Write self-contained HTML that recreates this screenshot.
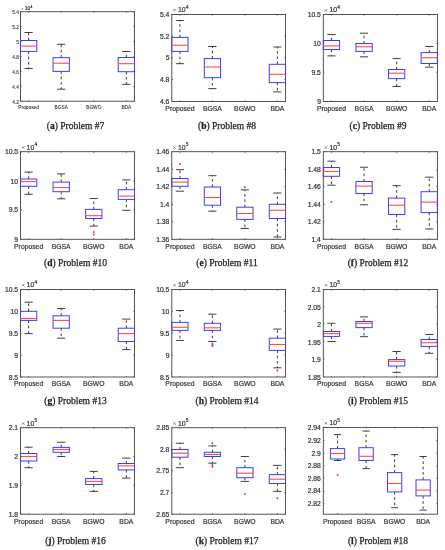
<!DOCTYPE html>
<html><head><meta charset="utf-8"><style>
html,body{margin:0;padding:0;background:#fff;}
svg{display:block;will-change:transform;}
text{font-family:"Liberation Sans",sans-serif;fill:#333;stroke:#333;stroke-width:0.2px;}
.cap{font-family:"Liberation Serif",serif;font-size:9.5px;fill:#222;stroke:#222;stroke-width:0.25px;}
.ax{fill:none;stroke:#404040;stroke-width:0.9;}
.tk{stroke:#404040;stroke-width:0.7;}
.bx{fill:none;stroke:#3c3cff;stroke-width:1.0;}
.md{stroke:#ff4848;stroke-width:1.1;}
.wh{stroke:#222;stroke-width:0.9;stroke-dasharray:2.6 2.7;}
.cp{stroke:#2a2a2a;stroke-width:0.9;}
.ou{fill:#ff3030;}
</style></head><body>
<svg width="445" height="550" viewBox="0 0 445 550">
<rect width="445" height="550" fill="#fff"/>
<g>
<rect x="20.5" y="11.7" width="114.00" height="89.50" class="ax"/>
<line x1="28.64" y1="40.50" x2="28.64" y2="32.50" class="wh"/>
<line x1="28.64" y1="51.40" x2="28.64" y2="68.50" class="wh"/>
<line x1="24.57" y1="32.50" x2="32.71" y2="32.50" class="cp"/>
<line x1="24.57" y1="68.50" x2="32.71" y2="68.50" class="cp"/>
<rect x="20.50" y="40.50" width="16.29" height="10.90" class="bx"/>
<line x1="20.50" y1="46.10" x2="36.79" y2="46.10" class="md"/>
<line x1="61.21" y1="57.70" x2="61.21" y2="44.30" class="wh"/>
<line x1="61.21" y1="71.40" x2="61.21" y2="89.20" class="wh"/>
<line x1="57.14" y1="44.30" x2="65.29" y2="44.30" class="cp"/>
<line x1="57.14" y1="89.20" x2="65.29" y2="89.20" class="cp"/>
<rect x="53.07" y="57.70" width="16.29" height="13.70" class="bx"/>
<line x1="53.07" y1="63.20" x2="69.36" y2="63.20" class="md"/>
<line x1="126.36" y1="57.50" x2="126.36" y2="51.50" class="wh"/>
<line x1="126.36" y1="71.70" x2="126.36" y2="84.30" class="wh"/>
<line x1="122.29" y1="51.50" x2="130.43" y2="51.50" class="cp"/>
<line x1="122.29" y1="84.30" x2="130.43" y2="84.30" class="cp"/>
<rect x="118.21" y="57.50" width="16.29" height="14.20" class="bx"/>
<line x1="118.21" y1="63.70" x2="134.50" y2="63.70" class="md"/>
<line x1="20.5" y1="11.7" x2="21.7" y2="11.7" class="tk"/><line x1="133.3" y1="11.7" x2="134.5" y2="11.7" class="tk"/>
<text x="18.82" y="14.33" text-anchor="end" font-size="4.8" style="stroke-width:0.10px">5.4</text>
<line x1="20.5" y1="26.5" x2="21.7" y2="26.5" class="tk"/><line x1="133.3" y1="26.5" x2="134.5" y2="26.5" class="tk"/>
<text x="18.82" y="29.13" text-anchor="end" font-size="4.8" style="stroke-width:0.10px">5.2</text>
<line x1="20.5" y1="41.4" x2="21.7" y2="41.4" class="tk"/><line x1="133.3" y1="41.4" x2="134.5" y2="41.4" class="tk"/>
<text x="18.82" y="44.03" text-anchor="end" font-size="4.8" style="stroke-width:0.10px">5</text>
<line x1="20.5" y1="56.5" x2="21.7" y2="56.5" class="tk"/><line x1="133.3" y1="56.5" x2="134.5" y2="56.5" class="tk"/>
<text x="18.82" y="59.13" text-anchor="end" font-size="4.8" style="stroke-width:0.10px">4.8</text>
<line x1="20.5" y1="71.4" x2="21.7" y2="71.4" class="tk"/><line x1="133.3" y1="71.4" x2="134.5" y2="71.4" class="tk"/>
<text x="18.82" y="74.03" text-anchor="end" font-size="4.8" style="stroke-width:0.10px">4.6</text>
<line x1="20.5" y1="86.3" x2="21.7" y2="86.3" class="tk"/><line x1="133.3" y1="86.3" x2="134.5" y2="86.3" class="tk"/>
<text x="18.82" y="88.93" text-anchor="end" font-size="4.8" style="stroke-width:0.10px">4.4</text>
<line x1="20.5" y1="101.2" x2="21.7" y2="101.2" class="tk"/><line x1="133.3" y1="101.2" x2="134.5" y2="101.2" class="tk"/>
<text x="18.82" y="103.83" text-anchor="end" font-size="4.8" style="stroke-width:0.10px">4.2</text>
<line x1="28.64" y1="101.2" x2="28.64" y2="100.0" class="tk"/><line x1="28.64" y1="11.7" x2="28.64" y2="12.899999999999999" class="tk"/>
<text x="28.64" y="109.42" text-anchor="middle" font-size="4.8" style="stroke-width:0.10px">Proposed</text>
<line x1="61.21" y1="101.2" x2="61.21" y2="100.0" class="tk"/><line x1="61.21" y1="11.7" x2="61.21" y2="12.899999999999999" class="tk"/>
<text x="61.21" y="109.42" text-anchor="middle" font-size="4.8" style="stroke-width:0.10px">BGSA</text>
<line x1="93.79" y1="101.2" x2="93.79" y2="100.0" class="tk"/><line x1="93.79" y1="11.7" x2="93.79" y2="12.899999999999999" class="tk"/>
<text x="93.79" y="109.42" text-anchor="middle" font-size="4.8" style="stroke-width:0.10px">BGWO</text>
<line x1="126.36" y1="101.2" x2="126.36" y2="100.0" class="tk"/><line x1="126.36" y1="11.7" x2="126.36" y2="12.899999999999999" class="tk"/>
<text x="126.36" y="109.42" text-anchor="middle" font-size="4.8" style="stroke-width:0.10px">BDA</text>
<path d="M21.63 7.96L23.18 9.51M21.63 9.51L23.18 7.96" stroke="#333" stroke-width="0.39"/>
<text x="24.81" y="10.22" font-size="4.87">10</text>
<text x="30.38" y="7.75" font-size="3.39">4</text>
<text x="75.5" y="128.9" text-anchor="middle" class="cap">(<tspan font-weight="bold">a</tspan>) Problem #7</text>
<rect x="171.8" y="14.5" width="113.70" height="87.00" class="ax"/>
<line x1="179.92" y1="37.40" x2="179.92" y2="20.50" class="wh"/>
<line x1="179.92" y1="51.40" x2="179.92" y2="63.70" class="wh"/>
<line x1="175.86" y1="20.50" x2="183.98" y2="20.50" class="cp"/>
<line x1="175.86" y1="63.70" x2="183.98" y2="63.70" class="cp"/>
<rect x="171.80" y="37.40" width="16.24" height="14.00" class="bx"/>
<line x1="171.80" y1="45.20" x2="188.04" y2="45.20" class="md"/>
<line x1="212.41" y1="58.60" x2="212.41" y2="46.50" class="wh"/>
<line x1="212.41" y1="77.70" x2="212.41" y2="88.60" class="wh"/>
<line x1="208.35" y1="46.50" x2="216.47" y2="46.50" class="cp"/>
<line x1="208.35" y1="88.60" x2="216.47" y2="88.60" class="cp"/>
<rect x="204.29" y="58.60" width="16.24" height="19.10" class="bx"/>
<line x1="204.29" y1="67.00" x2="220.53" y2="67.00" class="md"/>
<line x1="277.38" y1="64.30" x2="277.38" y2="47.00" class="wh"/>
<line x1="277.38" y1="82.60" x2="277.38" y2="91.90" class="wh"/>
<line x1="273.32" y1="47.00" x2="281.44" y2="47.00" class="cp"/>
<line x1="273.32" y1="91.90" x2="281.44" y2="91.90" class="cp"/>
<rect x="269.26" y="64.30" width="16.24" height="18.30" class="bx"/>
<line x1="269.26" y1="74.30" x2="285.50" y2="74.30" class="md"/>
<line x1="171.8" y1="14.5" x2="173.0" y2="14.5" class="tk"/><line x1="284.3" y1="14.5" x2="285.5" y2="14.5" class="tk"/>
<text x="169.42" y="16.95" text-anchor="end" font-size="6.8" style="stroke-width:0.20px">5.4</text>
<line x1="171.8" y1="36.3" x2="173.0" y2="36.3" class="tk"/><line x1="284.3" y1="36.3" x2="285.5" y2="36.3" class="tk"/>
<text x="169.42" y="38.75" text-anchor="end" font-size="6.8" style="stroke-width:0.20px">5.2</text>
<line x1="171.8" y1="57.7" x2="173.0" y2="57.7" class="tk"/><line x1="284.3" y1="57.7" x2="285.5" y2="57.7" class="tk"/>
<text x="169.42" y="60.15" text-anchor="end" font-size="6.8" style="stroke-width:0.20px">5</text>
<line x1="171.8" y1="79.5" x2="173.0" y2="79.5" class="tk"/><line x1="284.3" y1="79.5" x2="285.5" y2="79.5" class="tk"/>
<text x="169.42" y="81.95" text-anchor="end" font-size="6.8" style="stroke-width:0.20px">4.8</text>
<line x1="171.8" y1="101.5" x2="173.0" y2="101.5" class="tk"/><line x1="284.3" y1="101.5" x2="285.5" y2="101.5" class="tk"/>
<text x="169.42" y="103.95" text-anchor="end" font-size="6.8" style="stroke-width:0.20px">4.6</text>
<line x1="179.92" y1="101.5" x2="179.92" y2="100.3" class="tk"/><line x1="179.92" y1="14.5" x2="179.92" y2="15.7" class="tk"/>
<text x="179.92" y="110.88" text-anchor="middle" font-size="6.8" style="stroke-width:0.20px">Proposed</text>
<line x1="212.41" y1="101.5" x2="212.41" y2="100.3" class="tk"/><line x1="212.41" y1="14.5" x2="212.41" y2="15.7" class="tk"/>
<text x="212.41" y="110.88" text-anchor="middle" font-size="6.8" style="stroke-width:0.20px">BGSA</text>
<line x1="244.89" y1="101.5" x2="244.89" y2="100.3" class="tk"/><line x1="244.89" y1="14.5" x2="244.89" y2="15.7" class="tk"/>
<text x="244.89" y="110.88" text-anchor="middle" font-size="6.8" style="stroke-width:0.20px">BGWO</text>
<line x1="277.38" y1="101.5" x2="277.38" y2="100.3" class="tk"/><line x1="277.38" y1="14.5" x2="277.38" y2="15.7" class="tk"/>
<text x="277.38" y="110.88" text-anchor="middle" font-size="6.8" style="stroke-width:0.20px">BDA</text>
<path d="M173.40 9.20L175.60 11.40M173.40 11.40L175.60 9.20" stroke="#333" stroke-width="0.55"/>
<text x="177.90" y="12.40" font-size="6.90">10</text>
<text x="185.80" y="8.90" font-size="4.80">4</text>
<text x="227" y="128.9" text-anchor="middle" class="cap">(<tspan font-weight="bold">b</tspan>) Problem #8</text>
<rect x="323.3" y="14.5" width="114.10" height="87.00" class="ax"/>
<line x1="331.45" y1="40.50" x2="331.45" y2="34.50" class="wh"/>
<line x1="331.45" y1="49.50" x2="331.45" y2="55.90" class="wh"/>
<line x1="327.38" y1="34.50" x2="335.52" y2="34.50" class="cp"/>
<line x1="327.38" y1="55.90" x2="335.52" y2="55.90" class="cp"/>
<rect x="323.30" y="40.50" width="16.30" height="9.00" class="bx"/>
<line x1="323.30" y1="45.90" x2="339.60" y2="45.90" class="md"/>
<line x1="364.05" y1="43.50" x2="364.05" y2="33.20" class="wh"/>
<line x1="364.05" y1="51.40" x2="364.05" y2="56.80" class="wh"/>
<line x1="359.98" y1="33.20" x2="368.12" y2="33.20" class="cp"/>
<line x1="359.98" y1="56.80" x2="368.12" y2="56.80" class="cp"/>
<rect x="355.90" y="43.50" width="16.30" height="7.90" class="bx"/>
<line x1="355.90" y1="46.80" x2="372.20" y2="46.80" class="md"/>
<line x1="396.65" y1="69.50" x2="396.65" y2="58.60" class="wh"/>
<line x1="396.65" y1="78.60" x2="396.65" y2="86.50" class="wh"/>
<line x1="392.57" y1="58.60" x2="400.72" y2="58.60" class="cp"/>
<line x1="392.57" y1="86.50" x2="400.72" y2="86.50" class="cp"/>
<rect x="388.50" y="69.50" width="16.30" height="9.10" class="bx"/>
<line x1="388.50" y1="73.20" x2="404.80" y2="73.20" class="md"/>
<line x1="429.25" y1="52.60" x2="429.25" y2="46.50" class="wh"/>
<line x1="429.25" y1="63.50" x2="429.25" y2="67.20" class="wh"/>
<line x1="425.18" y1="46.50" x2="433.32" y2="46.50" class="cp"/>
<line x1="425.18" y1="67.20" x2="433.32" y2="67.20" class="cp"/>
<rect x="421.10" y="52.60" width="16.30" height="10.90" class="bx"/>
<line x1="421.10" y1="57.70" x2="437.40" y2="57.70" class="md"/>
<line x1="323.3" y1="14.5" x2="324.5" y2="14.5" class="tk"/><line x1="436.2" y1="14.5" x2="437.4" y2="14.5" class="tk"/>
<text x="320.92" y="16.95" text-anchor="end" font-size="6.8" style="stroke-width:0.20px">10.5</text>
<line x1="323.3" y1="43.5" x2="324.5" y2="43.5" class="tk"/><line x1="436.2" y1="43.5" x2="437.4" y2="43.5" class="tk"/>
<text x="320.92" y="45.95" text-anchor="end" font-size="6.8" style="stroke-width:0.20px">10</text>
<line x1="323.3" y1="72.3" x2="324.5" y2="72.3" class="tk"/><line x1="436.2" y1="72.3" x2="437.4" y2="72.3" class="tk"/>
<text x="320.92" y="74.75" text-anchor="end" font-size="6.8" style="stroke-width:0.20px">9.5</text>
<line x1="323.3" y1="101.5" x2="324.5" y2="101.5" class="tk"/><line x1="436.2" y1="101.5" x2="437.4" y2="101.5" class="tk"/>
<text x="320.92" y="103.95" text-anchor="end" font-size="6.8" style="stroke-width:0.20px">9</text>
<line x1="331.45" y1="101.5" x2="331.45" y2="100.3" class="tk"/><line x1="331.45" y1="14.5" x2="331.45" y2="15.7" class="tk"/>
<text x="331.45" y="110.88" text-anchor="middle" font-size="6.8" style="stroke-width:0.20px">Proposed</text>
<line x1="364.05" y1="101.5" x2="364.05" y2="100.3" class="tk"/><line x1="364.05" y1="14.5" x2="364.05" y2="15.7" class="tk"/>
<text x="364.05" y="110.88" text-anchor="middle" font-size="6.8" style="stroke-width:0.20px">BGSA</text>
<line x1="396.65" y1="101.5" x2="396.65" y2="100.3" class="tk"/><line x1="396.65" y1="14.5" x2="396.65" y2="15.7" class="tk"/>
<text x="396.65" y="110.88" text-anchor="middle" font-size="6.8" style="stroke-width:0.20px">BGWO</text>
<line x1="429.25" y1="101.5" x2="429.25" y2="100.3" class="tk"/><line x1="429.25" y1="14.5" x2="429.25" y2="15.7" class="tk"/>
<text x="429.25" y="110.88" text-anchor="middle" font-size="6.8" style="stroke-width:0.20px">BDA</text>
<path d="M324.90 9.20L327.10 11.40M324.90 11.40L327.10 9.20" stroke="#333" stroke-width="0.55"/>
<text x="329.40" y="12.40" font-size="6.90">10</text>
<text x="337.30" y="8.90" font-size="4.80">4</text>
<text x="378" y="128.9" text-anchor="middle" class="cap">(<tspan font-weight="bold">c</tspan>) Problem #9</text>
<rect x="20.5" y="151.7" width="114.00" height="87.60" class="ax"/>
<line x1="28.64" y1="179.00" x2="28.64" y2="172.10" class="wh"/>
<line x1="28.64" y1="186.30" x2="28.64" y2="194.30" class="wh"/>
<line x1="24.57" y1="172.10" x2="32.71" y2="172.10" class="cp"/>
<line x1="24.57" y1="194.30" x2="32.71" y2="194.30" class="cp"/>
<rect x="20.50" y="179.00" width="16.29" height="7.30" class="bx"/>
<line x1="20.50" y1="181.50" x2="36.79" y2="181.50" class="md"/>
<line x1="61.21" y1="182.10" x2="61.21" y2="173.90" class="wh"/>
<line x1="61.21" y1="191.70" x2="61.21" y2="198.80" class="wh"/>
<line x1="57.14" y1="173.90" x2="65.29" y2="173.90" class="cp"/>
<line x1="57.14" y1="198.80" x2="65.29" y2="198.80" class="cp"/>
<rect x="53.07" y="182.10" width="16.29" height="9.60" class="bx"/>
<line x1="53.07" y1="187.50" x2="69.36" y2="187.50" class="md"/>
<line x1="93.79" y1="209.40" x2="93.79" y2="198.50" class="wh"/>
<line x1="93.79" y1="218.50" x2="93.79" y2="226.10" class="wh"/>
<line x1="89.71" y1="198.50" x2="97.86" y2="198.50" class="cp"/>
<line x1="89.71" y1="226.10" x2="97.86" y2="226.10" class="cp"/>
<rect x="85.64" y="209.40" width="16.29" height="9.10" class="bx"/>
<line x1="85.64" y1="215.70" x2="101.93" y2="215.70" class="md"/>
<circle cx="93.79" cy="232.10" r="1.0" class="ou"/>
<circle cx="93.79" cy="234.50" r="1.0" class="ou"/>
<line x1="126.36" y1="189.70" x2="126.36" y2="179.90" class="wh"/>
<line x1="126.36" y1="199.40" x2="126.36" y2="210.30" class="wh"/>
<line x1="122.29" y1="179.90" x2="130.43" y2="179.90" class="cp"/>
<line x1="122.29" y1="210.30" x2="130.43" y2="210.30" class="cp"/>
<rect x="118.21" y="189.70" width="16.29" height="9.70" class="bx"/>
<line x1="118.21" y1="196.10" x2="134.50" y2="196.10" class="md"/>
<line x1="20.5" y1="151.7" x2="21.7" y2="151.7" class="tk"/><line x1="133.3" y1="151.7" x2="134.5" y2="151.7" class="tk"/>
<text x="18.12" y="154.15" text-anchor="end" font-size="6.8" style="stroke-width:0.20px">10.5</text>
<line x1="20.5" y1="181.2" x2="21.7" y2="181.2" class="tk"/><line x1="133.3" y1="181.2" x2="134.5" y2="181.2" class="tk"/>
<text x="18.12" y="183.65" text-anchor="end" font-size="6.8" style="stroke-width:0.20px">10</text>
<line x1="20.5" y1="209.9" x2="21.7" y2="209.9" class="tk"/><line x1="133.3" y1="209.9" x2="134.5" y2="209.9" class="tk"/>
<text x="18.12" y="212.35" text-anchor="end" font-size="6.8" style="stroke-width:0.20px">9.5</text>
<line x1="20.5" y1="239.3" x2="21.7" y2="239.3" class="tk"/><line x1="133.3" y1="239.3" x2="134.5" y2="239.3" class="tk"/>
<text x="18.12" y="241.75" text-anchor="end" font-size="6.8" style="stroke-width:0.20px">9</text>
<line x1="28.64" y1="239.3" x2="28.64" y2="238.10000000000002" class="tk"/><line x1="28.64" y1="151.7" x2="28.64" y2="152.89999999999998" class="tk"/>
<text x="28.64" y="248.68" text-anchor="middle" font-size="6.8" style="stroke-width:0.20px">Proposed</text>
<line x1="61.21" y1="239.3" x2="61.21" y2="238.10000000000002" class="tk"/><line x1="61.21" y1="151.7" x2="61.21" y2="152.89999999999998" class="tk"/>
<text x="61.21" y="248.68" text-anchor="middle" font-size="6.8" style="stroke-width:0.20px">BGSA</text>
<line x1="93.79" y1="239.3" x2="93.79" y2="238.10000000000002" class="tk"/><line x1="93.79" y1="151.7" x2="93.79" y2="152.89999999999998" class="tk"/>
<text x="93.79" y="248.68" text-anchor="middle" font-size="6.8" style="stroke-width:0.20px">BGWO</text>
<line x1="126.36" y1="239.3" x2="126.36" y2="238.10000000000002" class="tk"/><line x1="126.36" y1="151.7" x2="126.36" y2="152.89999999999998" class="tk"/>
<text x="126.36" y="248.68" text-anchor="middle" font-size="6.8" style="stroke-width:0.20px">BDA</text>
<path d="M22.10 146.40L24.30 148.60M22.10 148.60L24.30 146.40" stroke="#333" stroke-width="0.55"/>
<text x="26.60" y="149.60" font-size="6.90">10</text>
<text x="34.50" y="146.10" font-size="4.80">4</text>
<text x="75.5" y="266.4" text-anchor="middle" class="cap">(<tspan font-weight="bold">d</tspan>) Problem #10</text>
<rect x="171.8" y="151.7" width="113.70" height="87.60" class="ax"/>
<line x1="179.92" y1="178.50" x2="179.92" y2="169.70" class="wh"/>
<line x1="179.92" y1="186.30" x2="179.92" y2="191.20" class="wh"/>
<line x1="175.86" y1="169.70" x2="183.98" y2="169.70" class="cp"/>
<line x1="175.86" y1="191.20" x2="183.98" y2="191.20" class="cp"/>
<rect x="171.80" y="178.50" width="16.24" height="7.80" class="bx"/>
<line x1="171.80" y1="182.10" x2="188.04" y2="182.10" class="md"/>
<circle cx="179.92" cy="163.90" r="1.0" class="ou"/>
<line x1="212.41" y1="187.00" x2="212.41" y2="175.70" class="wh"/>
<line x1="212.41" y1="205.20" x2="212.41" y2="211.20" class="wh"/>
<line x1="208.35" y1="175.70" x2="216.47" y2="175.70" class="cp"/>
<line x1="208.35" y1="211.20" x2="216.47" y2="211.20" class="cp"/>
<rect x="204.29" y="187.00" width="16.24" height="18.20" class="bx"/>
<line x1="204.29" y1="197.50" x2="220.53" y2="197.50" class="md"/>
<line x1="244.89" y1="207.20" x2="244.89" y2="189.90" class="wh"/>
<line x1="244.89" y1="219.40" x2="244.89" y2="228.50" class="wh"/>
<line x1="240.83" y1="189.90" x2="248.95" y2="189.90" class="cp"/>
<line x1="240.83" y1="228.50" x2="248.95" y2="228.50" class="cp"/>
<rect x="236.77" y="207.20" width="16.24" height="12.20" class="bx"/>
<line x1="236.77" y1="213.50" x2="253.01" y2="213.50" class="md"/>
<circle cx="244.89" cy="187.20" r="1.0" class="ou"/>
<line x1="277.38" y1="204.30" x2="277.38" y2="193.00" class="wh"/>
<line x1="277.38" y1="218.50" x2="277.38" y2="237.00" class="wh"/>
<line x1="273.32" y1="193.00" x2="281.44" y2="193.00" class="cp"/>
<line x1="273.32" y1="237.00" x2="281.44" y2="237.00" class="cp"/>
<rect x="269.26" y="204.30" width="16.24" height="14.20" class="bx"/>
<line x1="269.26" y1="210.30" x2="285.50" y2="210.30" class="md"/>
<line x1="171.8" y1="151.7" x2="173.0" y2="151.7" class="tk"/><line x1="284.3" y1="151.7" x2="285.5" y2="151.7" class="tk"/>
<text x="169.42" y="154.15" text-anchor="end" font-size="6.8" style="stroke-width:0.20px">1.46</text>
<line x1="171.8" y1="169.4" x2="173.0" y2="169.4" class="tk"/><line x1="284.3" y1="169.4" x2="285.5" y2="169.4" class="tk"/>
<text x="169.42" y="171.85" text-anchor="end" font-size="6.8" style="stroke-width:0.20px">1.44</text>
<line x1="171.8" y1="186.6" x2="173.0" y2="186.6" class="tk"/><line x1="284.3" y1="186.6" x2="285.5" y2="186.6" class="tk"/>
<text x="169.42" y="189.05" text-anchor="end" font-size="6.8" style="stroke-width:0.20px">1.42</text>
<line x1="171.8" y1="204.5" x2="173.0" y2="204.5" class="tk"/><line x1="284.3" y1="204.5" x2="285.5" y2="204.5" class="tk"/>
<text x="169.42" y="206.95" text-anchor="end" font-size="6.8" style="stroke-width:0.20px">1.4</text>
<line x1="171.8" y1="221.7" x2="173.0" y2="221.7" class="tk"/><line x1="284.3" y1="221.7" x2="285.5" y2="221.7" class="tk"/>
<text x="169.42" y="224.15" text-anchor="end" font-size="6.8" style="stroke-width:0.20px">1.38</text>
<line x1="171.8" y1="239.3" x2="173.0" y2="239.3" class="tk"/><line x1="284.3" y1="239.3" x2="285.5" y2="239.3" class="tk"/>
<text x="169.42" y="241.75" text-anchor="end" font-size="6.8" style="stroke-width:0.20px">1.36</text>
<line x1="179.92" y1="239.3" x2="179.92" y2="238.10000000000002" class="tk"/><line x1="179.92" y1="151.7" x2="179.92" y2="152.89999999999998" class="tk"/>
<text x="179.92" y="248.68" text-anchor="middle" font-size="6.8" style="stroke-width:0.20px">Proposed</text>
<line x1="212.41" y1="239.3" x2="212.41" y2="238.10000000000002" class="tk"/><line x1="212.41" y1="151.7" x2="212.41" y2="152.89999999999998" class="tk"/>
<text x="212.41" y="248.68" text-anchor="middle" font-size="6.8" style="stroke-width:0.20px">BGSA</text>
<line x1="244.89" y1="239.3" x2="244.89" y2="238.10000000000002" class="tk"/><line x1="244.89" y1="151.7" x2="244.89" y2="152.89999999999998" class="tk"/>
<text x="244.89" y="248.68" text-anchor="middle" font-size="6.8" style="stroke-width:0.20px">BGWO</text>
<line x1="277.38" y1="239.3" x2="277.38" y2="238.10000000000002" class="tk"/><line x1="277.38" y1="151.7" x2="277.38" y2="152.89999999999998" class="tk"/>
<text x="277.38" y="248.68" text-anchor="middle" font-size="6.8" style="stroke-width:0.20px">BDA</text>
<path d="M173.40 146.40L175.60 148.60M173.40 148.60L175.60 146.40" stroke="#333" stroke-width="0.55"/>
<text x="177.90" y="149.60" font-size="6.90">10</text>
<text x="185.80" y="146.10" font-size="4.80">5</text>
<text x="227" y="266.4" text-anchor="middle" class="cap">(<tspan font-weight="bold">e</tspan>) Problem #11</text>
<rect x="323.3" y="151.7" width="114.10" height="87.60" class="ax"/>
<line x1="331.45" y1="167.50" x2="331.45" y2="161.20" class="wh"/>
<line x1="331.45" y1="176.30" x2="331.45" y2="185.20" class="wh"/>
<line x1="327.38" y1="161.20" x2="335.52" y2="161.20" class="cp"/>
<line x1="327.38" y1="185.20" x2="335.52" y2="185.20" class="cp"/>
<rect x="323.30" y="167.50" width="16.30" height="8.80" class="bx"/>
<line x1="323.30" y1="171.50" x2="339.60" y2="171.50" class="md"/>
<circle cx="331.45" cy="202.10" r="1.0" class="ou"/>
<line x1="364.05" y1="181.50" x2="364.05" y2="167.20" class="wh"/>
<line x1="364.05" y1="193.50" x2="364.05" y2="204.80" class="wh"/>
<line x1="359.98" y1="167.20" x2="368.12" y2="167.20" class="cp"/>
<line x1="359.98" y1="204.80" x2="368.12" y2="204.80" class="cp"/>
<rect x="355.90" y="181.50" width="16.30" height="12.00" class="bx"/>
<line x1="355.90" y1="186.10" x2="372.20" y2="186.10" class="md"/>
<line x1="396.65" y1="198.10" x2="396.65" y2="185.70" class="wh"/>
<line x1="396.65" y1="214.50" x2="396.65" y2="229.40" class="wh"/>
<line x1="392.57" y1="185.70" x2="400.72" y2="185.70" class="cp"/>
<line x1="392.57" y1="229.40" x2="400.72" y2="229.40" class="cp"/>
<rect x="388.50" y="198.10" width="16.30" height="16.40" class="bx"/>
<line x1="388.50" y1="205.20" x2="404.80" y2="205.20" class="md"/>
<line x1="429.25" y1="191.70" x2="429.25" y2="177.20" class="wh"/>
<line x1="429.25" y1="212.60" x2="429.25" y2="229.00" class="wh"/>
<line x1="425.18" y1="177.20" x2="433.32" y2="177.20" class="cp"/>
<line x1="425.18" y1="229.00" x2="433.32" y2="229.00" class="cp"/>
<rect x="421.10" y="191.70" width="16.30" height="20.90" class="bx"/>
<line x1="421.10" y1="202.10" x2="437.40" y2="202.10" class="md"/>
<line x1="323.3" y1="151.7" x2="324.5" y2="151.7" class="tk"/><line x1="436.2" y1="151.7" x2="437.4" y2="151.7" class="tk"/>
<text x="320.92" y="154.15" text-anchor="end" font-size="6.8" style="stroke-width:0.20px">1.5</text>
<line x1="323.3" y1="169.9" x2="324.5" y2="169.9" class="tk"/><line x1="436.2" y1="169.9" x2="437.4" y2="169.9" class="tk"/>
<text x="320.92" y="172.35" text-anchor="end" font-size="6.8" style="stroke-width:0.20px">1.48</text>
<line x1="323.3" y1="186.6" x2="324.5" y2="186.6" class="tk"/><line x1="436.2" y1="186.6" x2="437.4" y2="186.6" class="tk"/>
<text x="320.92" y="189.05" text-anchor="end" font-size="6.8" style="stroke-width:0.20px">1.46</text>
<line x1="323.3" y1="204.5" x2="324.5" y2="204.5" class="tk"/><line x1="436.2" y1="204.5" x2="437.4" y2="204.5" class="tk"/>
<text x="320.92" y="206.95" text-anchor="end" font-size="6.8" style="stroke-width:0.20px">1.44</text>
<line x1="323.3" y1="221.7" x2="324.5" y2="221.7" class="tk"/><line x1="436.2" y1="221.7" x2="437.4" y2="221.7" class="tk"/>
<text x="320.92" y="224.15" text-anchor="end" font-size="6.8" style="stroke-width:0.20px">1.42</text>
<line x1="323.3" y1="239.3" x2="324.5" y2="239.3" class="tk"/><line x1="436.2" y1="239.3" x2="437.4" y2="239.3" class="tk"/>
<text x="320.92" y="241.75" text-anchor="end" font-size="6.8" style="stroke-width:0.20px">1.4</text>
<line x1="331.45" y1="239.3" x2="331.45" y2="238.10000000000002" class="tk"/><line x1="331.45" y1="151.7" x2="331.45" y2="152.89999999999998" class="tk"/>
<text x="331.45" y="248.68" text-anchor="middle" font-size="6.8" style="stroke-width:0.20px">Proposed</text>
<line x1="364.05" y1="239.3" x2="364.05" y2="238.10000000000002" class="tk"/><line x1="364.05" y1="151.7" x2="364.05" y2="152.89999999999998" class="tk"/>
<text x="364.05" y="248.68" text-anchor="middle" font-size="6.8" style="stroke-width:0.20px">BGSA</text>
<line x1="396.65" y1="239.3" x2="396.65" y2="238.10000000000002" class="tk"/><line x1="396.65" y1="151.7" x2="396.65" y2="152.89999999999998" class="tk"/>
<text x="396.65" y="248.68" text-anchor="middle" font-size="6.8" style="stroke-width:0.20px">BGWO</text>
<line x1="429.25" y1="239.3" x2="429.25" y2="238.10000000000002" class="tk"/><line x1="429.25" y1="151.7" x2="429.25" y2="152.89999999999998" class="tk"/>
<text x="429.25" y="248.68" text-anchor="middle" font-size="6.8" style="stroke-width:0.20px">BDA</text>
<path d="M324.90 146.40L327.10 148.60M324.90 148.60L327.10 146.40" stroke="#333" stroke-width="0.55"/>
<text x="329.40" y="149.60" font-size="6.90">10</text>
<text x="337.30" y="146.10" font-size="4.80">5</text>
<text x="378" y="266.4" text-anchor="middle" class="cap">(<tspan font-weight="bold">f</tspan>) Problem #12</text>
<rect x="20.5" y="289.5" width="114.00" height="87.50" class="ax"/>
<line x1="28.64" y1="311.30" x2="28.64" y2="302.20" class="wh"/>
<line x1="28.64" y1="320.40" x2="28.64" y2="333.60" class="wh"/>
<line x1="24.57" y1="302.20" x2="32.71" y2="302.20" class="cp"/>
<line x1="24.57" y1="333.60" x2="32.71" y2="333.60" class="cp"/>
<rect x="20.50" y="311.30" width="16.29" height="9.10" class="bx"/>
<line x1="20.50" y1="318.50" x2="36.79" y2="318.50" class="md"/>
<line x1="61.21" y1="315.80" x2="61.21" y2="308.50" class="wh"/>
<line x1="61.21" y1="328.20" x2="61.21" y2="338.20" class="wh"/>
<line x1="57.14" y1="308.50" x2="65.29" y2="308.50" class="cp"/>
<line x1="57.14" y1="338.20" x2="65.29" y2="338.20" class="cp"/>
<rect x="53.07" y="315.80" width="16.29" height="12.40" class="bx"/>
<line x1="53.07" y1="320.40" x2="69.36" y2="320.40" class="md"/>
<line x1="126.36" y1="328.20" x2="126.36" y2="319.10" class="wh"/>
<line x1="126.36" y1="341.50" x2="126.36" y2="349.60" class="wh"/>
<line x1="122.29" y1="319.10" x2="130.43" y2="319.10" class="cp"/>
<line x1="122.29" y1="349.60" x2="130.43" y2="349.60" class="cp"/>
<rect x="118.21" y="328.20" width="16.29" height="13.30" class="bx"/>
<line x1="118.21" y1="333.60" x2="134.50" y2="333.60" class="md"/>
<line x1="20.5" y1="289.5" x2="21.7" y2="289.5" class="tk"/><line x1="133.3" y1="289.5" x2="134.5" y2="289.5" class="tk"/>
<text x="18.12" y="292.45" text-anchor="end" font-size="6.8" style="stroke-width:0.20px">10.5</text>
<line x1="20.5" y1="311.3" x2="21.7" y2="311.3" class="tk"/><line x1="133.3" y1="311.3" x2="134.5" y2="311.3" class="tk"/>
<text x="18.12" y="314.25" text-anchor="end" font-size="6.8" style="stroke-width:0.20px">10</text>
<line x1="20.5" y1="333.3" x2="21.7" y2="333.3" class="tk"/><line x1="133.3" y1="333.3" x2="134.5" y2="333.3" class="tk"/>
<text x="18.12" y="336.25" text-anchor="end" font-size="6.8" style="stroke-width:0.20px">9.5</text>
<line x1="20.5" y1="355.1" x2="21.7" y2="355.1" class="tk"/><line x1="133.3" y1="355.1" x2="134.5" y2="355.1" class="tk"/>
<text x="18.12" y="358.05" text-anchor="end" font-size="6.8" style="stroke-width:0.20px">9</text>
<line x1="20.5" y1="377" x2="21.7" y2="377" class="tk"/><line x1="133.3" y1="377" x2="134.5" y2="377" class="tk"/>
<text x="18.12" y="379.95" text-anchor="end" font-size="6.8" style="stroke-width:0.20px">8.5</text>
<line x1="28.64" y1="377" x2="28.64" y2="375.8" class="tk"/><line x1="28.64" y1="289.5" x2="28.64" y2="290.7" class="tk"/>
<text x="28.64" y="386.38" text-anchor="middle" font-size="6.8" style="stroke-width:0.20px">Proposed</text>
<line x1="61.21" y1="377" x2="61.21" y2="375.8" class="tk"/><line x1="61.21" y1="289.5" x2="61.21" y2="290.7" class="tk"/>
<text x="61.21" y="386.38" text-anchor="middle" font-size="6.8" style="stroke-width:0.20px">BGSA</text>
<line x1="93.79" y1="377" x2="93.79" y2="375.8" class="tk"/><line x1="93.79" y1="289.5" x2="93.79" y2="290.7" class="tk"/>
<text x="93.79" y="386.38" text-anchor="middle" font-size="6.8" style="stroke-width:0.20px">BGWO</text>
<line x1="126.36" y1="377" x2="126.36" y2="375.8" class="tk"/><line x1="126.36" y1="289.5" x2="126.36" y2="290.7" class="tk"/>
<text x="126.36" y="386.38" text-anchor="middle" font-size="6.8" style="stroke-width:0.20px">BDA</text>
<path d="M22.10 284.20L24.30 286.40M22.10 286.40L24.30 284.20" stroke="#333" stroke-width="0.55"/>
<text x="26.60" y="287.40" font-size="6.90">10</text>
<text x="34.50" y="283.90" font-size="4.80">4</text>
<text x="75.5" y="404.2" text-anchor="middle" class="cap">(<tspan font-weight="bold">g</tspan>) Problem #13</text>
<rect x="171.8" y="289.5" width="113.70" height="87.50" class="ax"/>
<line x1="179.92" y1="322.40" x2="179.92" y2="310.50" class="wh"/>
<line x1="179.92" y1="330.40" x2="179.92" y2="340.40" class="wh"/>
<line x1="175.86" y1="310.50" x2="183.98" y2="310.50" class="cp"/>
<line x1="175.86" y1="340.40" x2="183.98" y2="340.40" class="cp"/>
<rect x="171.80" y="322.40" width="16.24" height="8.00" class="bx"/>
<line x1="171.80" y1="327.30" x2="188.04" y2="327.30" class="md"/>
<line x1="212.41" y1="323.30" x2="212.41" y2="314.20" class="wh"/>
<line x1="212.41" y1="330.40" x2="212.41" y2="341.50" class="wh"/>
<line x1="208.35" y1="314.20" x2="216.47" y2="314.20" class="cp"/>
<line x1="208.35" y1="341.50" x2="216.47" y2="341.50" class="cp"/>
<rect x="204.29" y="323.30" width="16.24" height="7.10" class="bx"/>
<line x1="204.29" y1="327.80" x2="220.53" y2="327.80" class="md"/>
<circle cx="212.41" cy="343.60" r="1.0" class="ou"/>
<circle cx="212.41" cy="344.90" r="1.0" class="ou"/>
<circle cx="212.41" cy="346.00" r="1.0" class="ou"/>
<line x1="277.38" y1="338.20" x2="277.38" y2="329.10" class="wh"/>
<line x1="277.38" y1="350.40" x2="277.38" y2="367.80" class="wh"/>
<line x1="273.32" y1="329.10" x2="281.44" y2="329.10" class="cp"/>
<line x1="273.32" y1="367.80" x2="281.44" y2="367.80" class="cp"/>
<rect x="269.26" y="338.20" width="16.24" height="12.20" class="bx"/>
<line x1="269.26" y1="344.50" x2="285.50" y2="344.50" class="md"/>
<circle cx="277.38" cy="370.40" r="1.0" class="ou"/>
<line x1="171.8" y1="289.5" x2="173.0" y2="289.5" class="tk"/><line x1="284.3" y1="289.5" x2="285.5" y2="289.5" class="tk"/>
<text x="169.42" y="292.45" text-anchor="end" font-size="6.8" style="stroke-width:0.20px">10.5</text>
<line x1="171.8" y1="311.3" x2="173.0" y2="311.3" class="tk"/><line x1="284.3" y1="311.3" x2="285.5" y2="311.3" class="tk"/>
<text x="169.42" y="314.25" text-anchor="end" font-size="6.8" style="stroke-width:0.20px">10</text>
<line x1="171.8" y1="333.1" x2="173.0" y2="333.1" class="tk"/><line x1="284.3" y1="333.1" x2="285.5" y2="333.1" class="tk"/>
<text x="169.42" y="336.05" text-anchor="end" font-size="6.8" style="stroke-width:0.20px">9.5</text>
<line x1="171.8" y1="355.1" x2="173.0" y2="355.1" class="tk"/><line x1="284.3" y1="355.1" x2="285.5" y2="355.1" class="tk"/>
<text x="169.42" y="358.05" text-anchor="end" font-size="6.8" style="stroke-width:0.20px">9</text>
<line x1="171.8" y1="377" x2="173.0" y2="377" class="tk"/><line x1="284.3" y1="377" x2="285.5" y2="377" class="tk"/>
<text x="169.42" y="379.95" text-anchor="end" font-size="6.8" style="stroke-width:0.20px">8.5</text>
<line x1="179.92" y1="377" x2="179.92" y2="375.8" class="tk"/><line x1="179.92" y1="289.5" x2="179.92" y2="290.7" class="tk"/>
<text x="179.92" y="386.38" text-anchor="middle" font-size="6.8" style="stroke-width:0.20px">Proposed</text>
<line x1="212.41" y1="377" x2="212.41" y2="375.8" class="tk"/><line x1="212.41" y1="289.5" x2="212.41" y2="290.7" class="tk"/>
<text x="212.41" y="386.38" text-anchor="middle" font-size="6.8" style="stroke-width:0.20px">BGSA</text>
<line x1="244.89" y1="377" x2="244.89" y2="375.8" class="tk"/><line x1="244.89" y1="289.5" x2="244.89" y2="290.7" class="tk"/>
<text x="244.89" y="386.38" text-anchor="middle" font-size="6.8" style="stroke-width:0.20px">BGWO</text>
<line x1="277.38" y1="377" x2="277.38" y2="375.8" class="tk"/><line x1="277.38" y1="289.5" x2="277.38" y2="290.7" class="tk"/>
<text x="277.38" y="386.38" text-anchor="middle" font-size="6.8" style="stroke-width:0.20px">BDA</text>
<path d="M173.40 284.20L175.60 286.40M173.40 286.40L175.60 284.20" stroke="#333" stroke-width="0.55"/>
<text x="177.90" y="287.40" font-size="6.90">10</text>
<text x="185.80" y="283.90" font-size="4.80">4</text>
<text x="227" y="404.2" text-anchor="middle" class="cap">(<tspan font-weight="bold">h</tspan>) Problem #14</text>
<rect x="323.3" y="289.5" width="114.10" height="87.50" class="ax"/>
<line x1="331.45" y1="331.50" x2="331.45" y2="323.30" class="wh"/>
<line x1="331.45" y1="336.40" x2="331.45" y2="341.50" class="wh"/>
<line x1="327.38" y1="323.30" x2="335.52" y2="323.30" class="cp"/>
<line x1="327.38" y1="341.50" x2="335.52" y2="341.50" class="cp"/>
<rect x="323.30" y="331.50" width="16.30" height="4.90" class="bx"/>
<line x1="323.30" y1="333.60" x2="339.60" y2="333.60" class="md"/>
<line x1="364.05" y1="321.50" x2="364.05" y2="316.90" class="wh"/>
<line x1="364.05" y1="327.60" x2="364.05" y2="336.70" class="wh"/>
<line x1="359.98" y1="316.90" x2="368.12" y2="316.90" class="cp"/>
<line x1="359.98" y1="336.70" x2="368.12" y2="336.70" class="cp"/>
<rect x="355.90" y="321.50" width="16.30" height="6.10" class="bx"/>
<line x1="355.90" y1="323.30" x2="372.20" y2="323.30" class="md"/>
<line x1="396.65" y1="359.60" x2="396.65" y2="351.50" class="wh"/>
<line x1="396.65" y1="366.00" x2="396.65" y2="372.40" class="wh"/>
<line x1="392.57" y1="351.50" x2="400.72" y2="351.50" class="cp"/>
<line x1="392.57" y1="372.40" x2="400.72" y2="372.40" class="cp"/>
<rect x="388.50" y="359.60" width="16.30" height="6.40" class="bx"/>
<line x1="388.50" y1="361.30" x2="404.80" y2="361.30" class="md"/>
<line x1="429.25" y1="339.50" x2="429.25" y2="334.50" class="wh"/>
<line x1="429.25" y1="346.40" x2="429.25" y2="353.30" class="wh"/>
<line x1="425.18" y1="334.50" x2="433.32" y2="334.50" class="cp"/>
<line x1="425.18" y1="353.30" x2="433.32" y2="353.30" class="cp"/>
<rect x="421.10" y="339.50" width="16.30" height="6.90" class="bx"/>
<line x1="421.10" y1="342.70" x2="437.40" y2="342.70" class="md"/>
<line x1="323.3" y1="289.5" x2="324.5" y2="289.5" class="tk"/><line x1="436.2" y1="289.5" x2="437.4" y2="289.5" class="tk"/>
<text x="320.92" y="292.45" text-anchor="end" font-size="6.8" style="stroke-width:0.20px">2.1</text>
<line x1="323.3" y1="306.9" x2="324.5" y2="306.9" class="tk"/><line x1="436.2" y1="306.9" x2="437.4" y2="306.9" class="tk"/>
<text x="320.92" y="309.85" text-anchor="end" font-size="6.8" style="stroke-width:0.20px">2.05</text>
<line x1="323.3" y1="324.2" x2="324.5" y2="324.2" class="tk"/><line x1="436.2" y1="324.2" x2="437.4" y2="324.2" class="tk"/>
<text x="320.92" y="327.15" text-anchor="end" font-size="6.8" style="stroke-width:0.20px">2</text>
<line x1="323.3" y1="341.8" x2="324.5" y2="341.8" class="tk"/><line x1="436.2" y1="341.8" x2="437.4" y2="341.8" class="tk"/>
<text x="320.92" y="344.75" text-anchor="end" font-size="6.8" style="stroke-width:0.20px">1.95</text>
<line x1="323.3" y1="359.1" x2="324.5" y2="359.1" class="tk"/><line x1="436.2" y1="359.1" x2="437.4" y2="359.1" class="tk"/>
<text x="320.92" y="362.05" text-anchor="end" font-size="6.8" style="stroke-width:0.20px">1.9</text>
<line x1="323.3" y1="377" x2="324.5" y2="377" class="tk"/><line x1="436.2" y1="377" x2="437.4" y2="377" class="tk"/>
<text x="320.92" y="379.95" text-anchor="end" font-size="6.8" style="stroke-width:0.20px">1.85</text>
<line x1="331.45" y1="377" x2="331.45" y2="375.8" class="tk"/><line x1="331.45" y1="289.5" x2="331.45" y2="290.7" class="tk"/>
<text x="331.45" y="386.38" text-anchor="middle" font-size="6.8" style="stroke-width:0.20px">Proposed</text>
<line x1="364.05" y1="377" x2="364.05" y2="375.8" class="tk"/><line x1="364.05" y1="289.5" x2="364.05" y2="290.7" class="tk"/>
<text x="364.05" y="386.38" text-anchor="middle" font-size="6.8" style="stroke-width:0.20px">BGSA</text>
<line x1="396.65" y1="377" x2="396.65" y2="375.8" class="tk"/><line x1="396.65" y1="289.5" x2="396.65" y2="290.7" class="tk"/>
<text x="396.65" y="386.38" text-anchor="middle" font-size="6.8" style="stroke-width:0.20px">BGWO</text>
<line x1="429.25" y1="377" x2="429.25" y2="375.8" class="tk"/><line x1="429.25" y1="289.5" x2="429.25" y2="290.7" class="tk"/>
<text x="429.25" y="386.38" text-anchor="middle" font-size="6.8" style="stroke-width:0.20px">BDA</text>
<path d="M324.90 284.20L327.10 286.40M324.90 286.40L327.10 284.20" stroke="#333" stroke-width="0.55"/>
<text x="329.40" y="287.40" font-size="6.90">10</text>
<text x="337.30" y="283.90" font-size="4.80">5</text>
<text x="378" y="404.2" text-anchor="middle" class="cap">(<tspan font-weight="bold">i</tspan>) Problem #15</text>
<rect x="20.5" y="427.7" width="114.00" height="86.50" class="ax"/>
<line x1="28.64" y1="453.50" x2="28.64" y2="447.20" class="wh"/>
<line x1="28.64" y1="461.00" x2="28.64" y2="467.70" class="wh"/>
<line x1="24.57" y1="447.20" x2="32.71" y2="447.20" class="cp"/>
<line x1="24.57" y1="467.70" x2="32.71" y2="467.70" class="cp"/>
<rect x="20.50" y="453.50" width="16.29" height="7.50" class="bx"/>
<line x1="20.50" y1="456.50" x2="36.79" y2="456.50" class="md"/>
<line x1="61.21" y1="447.40" x2="61.21" y2="442.30" class="wh"/>
<line x1="61.21" y1="452.30" x2="61.21" y2="456.50" class="wh"/>
<line x1="57.14" y1="442.30" x2="65.29" y2="442.30" class="cp"/>
<line x1="57.14" y1="456.50" x2="65.29" y2="456.50" class="cp"/>
<rect x="53.07" y="447.40" width="16.29" height="4.90" class="bx"/>
<line x1="53.07" y1="449.50" x2="69.36" y2="449.50" class="md"/>
<line x1="93.79" y1="478.60" x2="93.79" y2="471.40" class="wh"/>
<line x1="93.79" y1="484.50" x2="93.79" y2="491.40" class="wh"/>
<line x1="89.71" y1="471.40" x2="97.86" y2="471.40" class="cp"/>
<line x1="89.71" y1="491.40" x2="97.86" y2="491.40" class="cp"/>
<rect x="85.64" y="478.60" width="16.29" height="5.90" class="bx"/>
<line x1="85.64" y1="481.40" x2="101.93" y2="481.40" class="md"/>
<line x1="126.36" y1="463.50" x2="126.36" y2="458.10" class="wh"/>
<line x1="126.36" y1="469.90" x2="126.36" y2="478.10" class="wh"/>
<line x1="122.29" y1="458.10" x2="130.43" y2="458.10" class="cp"/>
<line x1="122.29" y1="478.10" x2="130.43" y2="478.10" class="cp"/>
<rect x="118.21" y="463.50" width="16.29" height="6.40" class="bx"/>
<line x1="118.21" y1="465.90" x2="134.50" y2="465.90" class="md"/>
<line x1="20.5" y1="427.7" x2="21.7" y2="427.7" class="tk"/><line x1="133.3" y1="427.7" x2="134.5" y2="427.7" class="tk"/>
<text x="18.12" y="430.15" text-anchor="end" font-size="6.8" style="stroke-width:0.20px">2.1</text>
<line x1="20.5" y1="456.5" x2="21.7" y2="456.5" class="tk"/><line x1="133.3" y1="456.5" x2="134.5" y2="456.5" class="tk"/>
<text x="18.12" y="458.95" text-anchor="end" font-size="6.8" style="stroke-width:0.20px">2</text>
<line x1="20.5" y1="485.3" x2="21.7" y2="485.3" class="tk"/><line x1="133.3" y1="485.3" x2="134.5" y2="485.3" class="tk"/>
<text x="18.12" y="487.75" text-anchor="end" font-size="6.8" style="stroke-width:0.20px">1.9</text>
<line x1="20.5" y1="514.2" x2="21.7" y2="514.2" class="tk"/><line x1="133.3" y1="514.2" x2="134.5" y2="514.2" class="tk"/>
<text x="18.12" y="516.65" text-anchor="end" font-size="6.8" style="stroke-width:0.20px">1.8</text>
<line x1="28.64" y1="514.2" x2="28.64" y2="513.0" class="tk"/><line x1="28.64" y1="427.7" x2="28.64" y2="428.9" class="tk"/>
<text x="28.64" y="523.58" text-anchor="middle" font-size="6.8" style="stroke-width:0.20px">Proposed</text>
<line x1="61.21" y1="514.2" x2="61.21" y2="513.0" class="tk"/><line x1="61.21" y1="427.7" x2="61.21" y2="428.9" class="tk"/>
<text x="61.21" y="523.58" text-anchor="middle" font-size="6.8" style="stroke-width:0.20px">BGSA</text>
<line x1="93.79" y1="514.2" x2="93.79" y2="513.0" class="tk"/><line x1="93.79" y1="427.7" x2="93.79" y2="428.9" class="tk"/>
<text x="93.79" y="523.58" text-anchor="middle" font-size="6.8" style="stroke-width:0.20px">BGWO</text>
<line x1="126.36" y1="514.2" x2="126.36" y2="513.0" class="tk"/><line x1="126.36" y1="427.7" x2="126.36" y2="428.9" class="tk"/>
<text x="126.36" y="523.58" text-anchor="middle" font-size="6.8" style="stroke-width:0.20px">BDA</text>
<path d="M22.10 422.40L24.30 424.60M22.10 424.60L24.30 422.40" stroke="#333" stroke-width="0.55"/>
<text x="26.60" y="425.60" font-size="6.90">10</text>
<text x="34.50" y="422.10" font-size="4.80">5</text>
<text x="75.5" y="543.8" text-anchor="middle" class="cap">(<tspan font-weight="bold">j</tspan>) Problem #16</text>
<rect x="171.8" y="427.7" width="113.70" height="86.50" class="ax"/>
<line x1="179.92" y1="449.50" x2="179.92" y2="443.20" class="wh"/>
<line x1="179.92" y1="457.20" x2="179.92" y2="467.70" class="wh"/>
<line x1="175.86" y1="443.20" x2="183.98" y2="443.20" class="cp"/>
<line x1="175.86" y1="467.70" x2="183.98" y2="467.70" class="cp"/>
<rect x="171.80" y="449.50" width="16.24" height="7.70" class="bx"/>
<line x1="171.80" y1="453.20" x2="188.04" y2="453.20" class="md"/>
<line x1="212.41" y1="452.30" x2="212.41" y2="445.90" class="wh"/>
<line x1="212.41" y1="456.50" x2="212.41" y2="463.20" class="wh"/>
<line x1="208.35" y1="445.90" x2="216.47" y2="445.90" class="cp"/>
<line x1="208.35" y1="463.20" x2="216.47" y2="463.20" class="cp"/>
<rect x="204.29" y="452.30" width="16.24" height="4.20" class="bx"/>
<line x1="204.29" y1="454.50" x2="220.53" y2="454.50" class="md"/>
<circle cx="212.41" cy="443.20" r="1.0" class="ou"/>
<circle cx="212.41" cy="465.00" r="1.0" class="ou"/>
<circle cx="212.41" cy="466.80" r="1.0" class="ou"/>
<line x1="244.89" y1="467.70" x2="244.89" y2="456.50" class="wh"/>
<line x1="244.89" y1="477.70" x2="244.89" y2="481.40" class="wh"/>
<line x1="240.83" y1="456.50" x2="248.95" y2="456.50" class="cp"/>
<line x1="240.83" y1="481.40" x2="248.95" y2="481.40" class="cp"/>
<rect x="236.77" y="467.70" width="16.24" height="10.00" class="bx"/>
<line x1="236.77" y1="473.20" x2="253.01" y2="473.20" class="md"/>
<circle cx="244.89" cy="494.10" r="1.0" class="ou"/>
<line x1="277.38" y1="474.60" x2="277.38" y2="465.40" class="wh"/>
<line x1="277.38" y1="483.50" x2="277.38" y2="491.40" class="wh"/>
<line x1="273.32" y1="465.40" x2="281.44" y2="465.40" class="cp"/>
<line x1="273.32" y1="491.40" x2="281.44" y2="491.40" class="cp"/>
<rect x="269.26" y="474.60" width="16.24" height="8.90" class="bx"/>
<line x1="269.26" y1="479.20" x2="285.50" y2="479.20" class="md"/>
<circle cx="277.38" cy="498.30" r="1.0" class="ou"/>
<line x1="171.8" y1="427.7" x2="173.0" y2="427.7" class="tk"/><line x1="284.3" y1="427.7" x2="285.5" y2="427.7" class="tk"/>
<text x="169.42" y="430.15" text-anchor="end" font-size="6.8" style="stroke-width:0.20px">2.85</text>
<line x1="171.8" y1="449.2" x2="173.0" y2="449.2" class="tk"/><line x1="284.3" y1="449.2" x2="285.5" y2="449.2" class="tk"/>
<text x="169.42" y="451.65" text-anchor="end" font-size="6.8" style="stroke-width:0.20px">2.8</text>
<line x1="171.8" y1="470.8" x2="173.0" y2="470.8" class="tk"/><line x1="284.3" y1="470.8" x2="285.5" y2="470.8" class="tk"/>
<text x="169.42" y="473.25" text-anchor="end" font-size="6.8" style="stroke-width:0.20px">2.75</text>
<line x1="171.8" y1="492.8" x2="173.0" y2="492.8" class="tk"/><line x1="284.3" y1="492.8" x2="285.5" y2="492.8" class="tk"/>
<text x="169.42" y="495.25" text-anchor="end" font-size="6.8" style="stroke-width:0.20px">2.7</text>
<line x1="171.8" y1="514.2" x2="173.0" y2="514.2" class="tk"/><line x1="284.3" y1="514.2" x2="285.5" y2="514.2" class="tk"/>
<text x="169.42" y="516.65" text-anchor="end" font-size="6.8" style="stroke-width:0.20px">2.65</text>
<line x1="179.92" y1="514.2" x2="179.92" y2="513.0" class="tk"/><line x1="179.92" y1="427.7" x2="179.92" y2="428.9" class="tk"/>
<text x="179.92" y="523.58" text-anchor="middle" font-size="6.8" style="stroke-width:0.20px">Proposed</text>
<line x1="212.41" y1="514.2" x2="212.41" y2="513.0" class="tk"/><line x1="212.41" y1="427.7" x2="212.41" y2="428.9" class="tk"/>
<text x="212.41" y="523.58" text-anchor="middle" font-size="6.8" style="stroke-width:0.20px">BGSA</text>
<line x1="244.89" y1="514.2" x2="244.89" y2="513.0" class="tk"/><line x1="244.89" y1="427.7" x2="244.89" y2="428.9" class="tk"/>
<text x="244.89" y="523.58" text-anchor="middle" font-size="6.8" style="stroke-width:0.20px">BGWO</text>
<line x1="277.38" y1="514.2" x2="277.38" y2="513.0" class="tk"/><line x1="277.38" y1="427.7" x2="277.38" y2="428.9" class="tk"/>
<text x="277.38" y="523.58" text-anchor="middle" font-size="6.8" style="stroke-width:0.20px">BDA</text>
<path d="M173.40 422.40L175.60 424.60M173.40 424.60L175.60 422.40" stroke="#333" stroke-width="0.55"/>
<text x="177.90" y="425.60" font-size="6.90">10</text>
<text x="185.80" y="422.10" font-size="4.80">5</text>
<text x="227" y="543.8" text-anchor="middle" class="cap">(<tspan font-weight="bold">k</tspan>) Problem #17</text>
<rect x="323.3" y="427.4" width="114.10" height="86.80" class="ax"/>
<line x1="337.56" y1="448.60" x2="337.56" y2="434.60" class="wh"/>
<line x1="337.56" y1="459.00" x2="337.56" y2="460.50" class="wh"/>
<line x1="334.00" y1="434.60" x2="341.13" y2="434.60" class="cp"/>
<line x1="334.00" y1="460.50" x2="341.13" y2="460.50" class="cp"/>
<rect x="330.43" y="448.60" width="14.26" height="10.40" class="bx"/>
<line x1="330.43" y1="453.50" x2="344.69" y2="453.50" class="md"/>
<circle cx="337.56" cy="475.00" r="1.0" class="ou"/>
<line x1="366.09" y1="447.70" x2="366.09" y2="431.00" class="wh"/>
<line x1="366.09" y1="460.50" x2="366.09" y2="468.60" class="wh"/>
<line x1="362.52" y1="431.00" x2="369.65" y2="431.00" class="cp"/>
<line x1="362.52" y1="468.60" x2="369.65" y2="468.60" class="cp"/>
<rect x="358.96" y="447.70" width="14.26" height="12.80" class="bx"/>
<line x1="358.96" y1="456.30" x2="373.22" y2="456.30" class="md"/>
<line x1="394.61" y1="472.60" x2="394.61" y2="454.60" class="wh"/>
<line x1="394.61" y1="491.90" x2="394.61" y2="507.70" class="wh"/>
<line x1="391.05" y1="454.60" x2="398.18" y2="454.60" class="cp"/>
<line x1="391.05" y1="507.70" x2="398.18" y2="507.70" class="cp"/>
<rect x="387.48" y="472.60" width="14.26" height="19.30" class="bx"/>
<line x1="387.48" y1="483.50" x2="401.74" y2="483.50" class="md"/>
<line x1="423.14" y1="479.90" x2="423.14" y2="456.50" class="wh"/>
<line x1="423.14" y1="495.90" x2="423.14" y2="510.10" class="wh"/>
<line x1="419.57" y1="456.50" x2="426.70" y2="456.50" class="cp"/>
<line x1="419.57" y1="510.10" x2="426.70" y2="510.10" class="cp"/>
<rect x="416.01" y="479.90" width="14.26" height="16.00" class="bx"/>
<line x1="416.01" y1="490.10" x2="430.27" y2="490.10" class="md"/>
<line x1="323.3" y1="427.4" x2="324.5" y2="427.4" class="tk"/><line x1="436.2" y1="427.4" x2="437.4" y2="427.4" class="tk"/>
<text x="320.92" y="429.85" text-anchor="end" font-size="6.8" style="stroke-width:0.20px">2.94</text>
<line x1="323.3" y1="440.5" x2="324.5" y2="440.5" class="tk"/><line x1="436.2" y1="440.5" x2="437.4" y2="440.5" class="tk"/>
<text x="320.92" y="442.95" text-anchor="end" font-size="6.8" style="stroke-width:0.20px">2.92</text>
<line x1="323.3" y1="453.2" x2="324.5" y2="453.2" class="tk"/><line x1="436.2" y1="453.2" x2="437.4" y2="453.2" class="tk"/>
<text x="320.92" y="455.65" text-anchor="end" font-size="6.8" style="stroke-width:0.20px">2.9</text>
<line x1="323.3" y1="465.9" x2="324.5" y2="465.9" class="tk"/><line x1="436.2" y1="465.9" x2="437.4" y2="465.9" class="tk"/>
<text x="320.92" y="468.35" text-anchor="end" font-size="6.8" style="stroke-width:0.20px">2.88</text>
<line x1="323.3" y1="478.3" x2="324.5" y2="478.3" class="tk"/><line x1="436.2" y1="478.3" x2="437.4" y2="478.3" class="tk"/>
<text x="320.92" y="480.75" text-anchor="end" font-size="6.8" style="stroke-width:0.20px">2.86</text>
<line x1="323.3" y1="491" x2="324.5" y2="491" class="tk"/><line x1="436.2" y1="491" x2="437.4" y2="491" class="tk"/>
<text x="320.92" y="493.45" text-anchor="end" font-size="6.8" style="stroke-width:0.20px">2.84</text>
<line x1="323.3" y1="503.7" x2="324.5" y2="503.7" class="tk"/><line x1="436.2" y1="503.7" x2="437.4" y2="503.7" class="tk"/>
<text x="320.92" y="506.15" text-anchor="end" font-size="6.8" style="stroke-width:0.20px">2.82</text>
<line x1="337.56" y1="514.2" x2="337.56" y2="513.0" class="tk"/><line x1="337.56" y1="427.4" x2="337.56" y2="428.59999999999997" class="tk"/>
<text x="337.56" y="523.58" text-anchor="middle" font-size="6.8" style="stroke-width:0.20px">Proposed</text>
<line x1="366.09" y1="514.2" x2="366.09" y2="513.0" class="tk"/><line x1="366.09" y1="427.4" x2="366.09" y2="428.59999999999997" class="tk"/>
<text x="366.09" y="523.58" text-anchor="middle" font-size="6.8" style="stroke-width:0.20px">BGSA</text>
<line x1="394.61" y1="514.2" x2="394.61" y2="513.0" class="tk"/><line x1="394.61" y1="427.4" x2="394.61" y2="428.59999999999997" class="tk"/>
<text x="394.61" y="523.58" text-anchor="middle" font-size="6.8" style="stroke-width:0.20px">BGWO</text>
<line x1="423.14" y1="514.2" x2="423.14" y2="513.0" class="tk"/><line x1="423.14" y1="427.4" x2="423.14" y2="428.59999999999997" class="tk"/>
<text x="423.14" y="523.58" text-anchor="middle" font-size="6.8" style="stroke-width:0.20px">BDA</text>
<path d="M324.90 422.10L327.10 424.30M324.90 424.30L327.10 422.10" stroke="#333" stroke-width="0.55"/>
<text x="329.40" y="425.30" font-size="6.90">10</text>
<text x="337.30" y="421.80" font-size="4.80">5</text>
<text x="378" y="543.8" text-anchor="middle" class="cap">(<tspan font-weight="bold">l</tspan>) Problem #18</text>
</g>
</svg>
</body></html>
